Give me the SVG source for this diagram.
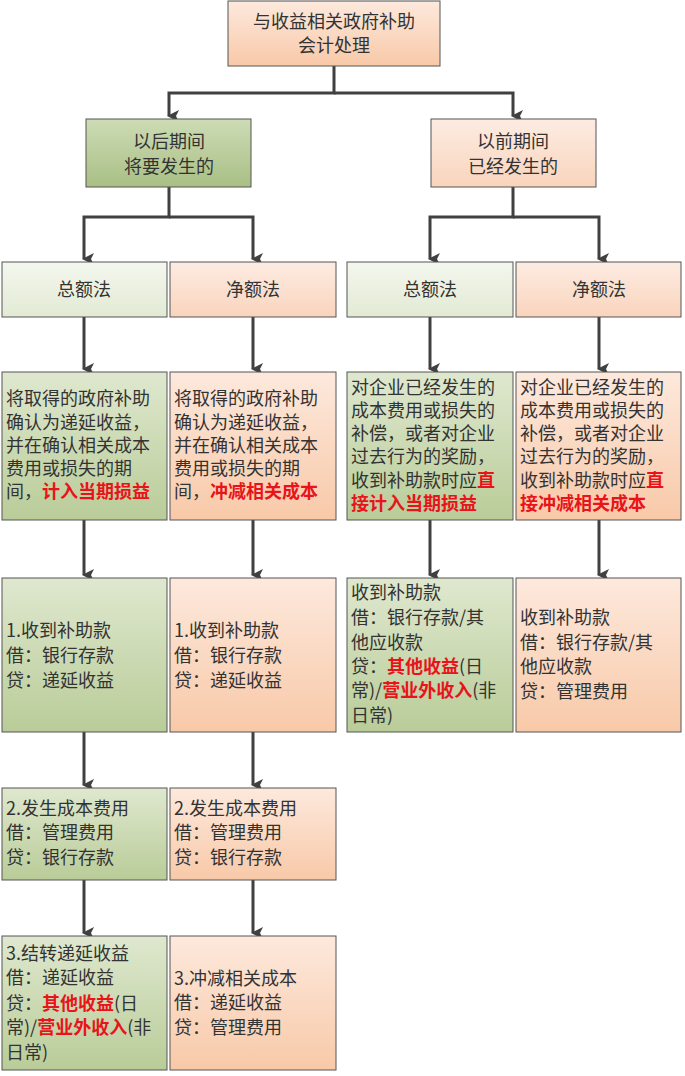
<svg xmlns="http://www.w3.org/2000/svg" width="685" height="1076" viewBox="0 0 685 1076">
<defs>
<linearGradient id="gp" x1="0" y1="0" x2="0" y2="1"><stop offset="0" stop-color="#fde9dd"/><stop offset="1" stop-color="#f8c9a8"/></linearGradient>
<linearGradient id="gpl" x1="0" y1="0" x2="0" y2="1"><stop offset="0" stop-color="#fdece2"/><stop offset="1" stop-color="#f9d4bc"/></linearGradient>
<linearGradient id="gg" x1="0" y1="0" x2="0" y2="1"><stop offset="0" stop-color="#dfe8cf"/><stop offset="1" stop-color="#b9cc98"/></linearGradient>
<linearGradient id="ggd" x1="0" y1="0" x2="0" y2="1"><stop offset="0" stop-color="#cddcb5"/><stop offset="1" stop-color="#a9bf85"/></linearGradient>
<linearGradient id="ggl" x1="0" y1="0" x2="0" y2="1"><stop offset="0" stop-color="#f4f7ee"/><stop offset="1" stop-color="#e2ead4"/></linearGradient>
<marker id="ar" markerWidth="12" markerHeight="12" refX="6" refY="10" orient="auto" markerUnits="userSpaceOnUse" viewBox="0 0 12 12"><path d="M0,0 L6,3 L12,0 L6,12 Z" fill="#404040"/></marker>
</defs>
<style>
rect{stroke:#555;stroke-width:1}
text{font-family:"Noto Sans CJK SC",sans-serif;font-size:18px;fill:#333}
.c{text-anchor:middle}
.r{fill:#e8141a;font-weight:bold}
.ln{fill:none;stroke:#404040;stroke-width:3}
</style>
<g id="connectors">
<path class="ln" d="M334,66 V93 H169 V116" marker-end="url(#ar)"/>
<path class="ln" d="M334,93 H513 V116" marker-end="url(#ar)"/>
<path class="ln" d="M169,187 V217 H84 V259" marker-end="url(#ar)"/>
<path class="ln" d="M169,217 H253 V259" marker-end="url(#ar)"/>
<path class="ln" d="M513,187 V217 H430 V259" marker-end="url(#ar)"/>
<path class="ln" d="M513,217 H599 V259" marker-end="url(#ar)"/>
<path class="ln" d="M84,317 V369" marker-end="url(#ar)"/>
<path class="ln" d="M253,317 V369" marker-end="url(#ar)"/>
<path class="ln" d="M430,317 V369" marker-end="url(#ar)"/>
<path class="ln" d="M599,317 V369" marker-end="url(#ar)"/>
<path class="ln" d="M84,520 V575" marker-end="url(#ar)"/>
<path class="ln" d="M253,520 V575" marker-end="url(#ar)"/>
<path class="ln" d="M430,520 V575" marker-end="url(#ar)"/>
<path class="ln" d="M599,520 V575" marker-end="url(#ar)"/>
<path class="ln" d="M84,732 V785" marker-end="url(#ar)"/>
<path class="ln" d="M253,732 V785" marker-end="url(#ar)"/>
<path class="ln" d="M84,880 V933" marker-end="url(#ar)"/>
<path class="ln" d="M253,880 V933" marker-end="url(#ar)"/>
</g>
<g id="root"><rect x="228" y="1" width="212" height="65" fill="url(#gp)"/><text class="c" x="334" y="28">与收益相关政府补助</text><text class="c" x="334" y="52">会计处理</text></g>
<g id="later"><rect x="86" y="119" width="165" height="68" fill="url(#ggd)"/><text class="c" x="169" y="148">以后期间</text><text class="c" x="169" y="173">将要发生的</text></g>
<g id="earlier"><rect x="431" y="119" width="165" height="68" fill="url(#gpl)"/><text class="c" x="513" y="148">以前期间</text><text class="c" x="513" y="173">已经发生的</text></g>
<g id="g1"><rect x="2" y="262" width="165" height="55" fill="url(#ggl)"/><text class="c" x="84" y="296">总额法</text></g>
<g id="n1"><rect x="170" y="262" width="166" height="55" fill="url(#gpl)"/><text class="c" x="253" y="296">净额法</text></g>
<g id="g2"><rect x="347" y="262" width="166" height="55" fill="url(#ggl)"/><text class="c" x="430" y="296">总额法</text></g>
<g id="n2"><rect x="516" y="262" width="165" height="55" fill="url(#gpl)"/><text class="c" x="599" y="296">净额法</text></g>
<g id="d1"><rect x="2" y="372" width="165" height="148" fill="url(#gg)"/>
<text x="6" y="405">将取得的政府补助</text><text x="6" y="429">确认为递延收益，</text><text x="6" y="452">并在确认相关成本</text><text x="6" y="475">费用或损失的期</text><text x="6" y="498">间，<tspan class="r">计入当期损益</tspan></text></g>
<g id="d2"><rect x="170" y="372" width="166" height="148" fill="url(#gp)"/>
<text x="174" y="405">将取得的政府补助</text><text x="174" y="429">确认为递延收益，</text><text x="174" y="452">并在确认相关成本</text><text x="174" y="475">费用或损失的期</text><text x="174" y="498">间，<tspan class="r">冲减相关成本</tspan></text></g>
<g id="d3"><rect x="347" y="372" width="166" height="148" fill="url(#gg)"/>
<text x="351" y="394">对企业已经发生的</text><text x="351" y="417">成本费用或损失的</text><text x="351" y="440">补偿，或者对企业</text><text x="351" y="463">过去行为的奖励，</text><text x="351" y="487">收到补助款时应<tspan class="r">直</tspan></text><text x="351" y="510" class="r">接计入当期损益</text></g>
<g id="d4"><rect x="516" y="372" width="165" height="148" fill="url(#gp)"/>
<text x="520" y="394">对企业已经发生的</text><text x="520" y="417">成本费用或损失的</text><text x="520" y="440">补偿，或者对企业</text><text x="520" y="463">过去行为的奖励，</text><text x="520" y="487">收到补助款时应<tspan class="r">直</tspan></text><text x="520" y="510" class="r">接冲减相关成本</text></g>
<g id="e1"><rect x="2" y="578" width="165" height="154" fill="url(#gg)"/>
<text x="6" y="637">1.收到补助款</text><text x="6" y="662">借：银行存款</text><text x="6" y="687">贷：递延收益</text></g>
<g id="e2"><rect x="170" y="578" width="166" height="154" fill="url(#gp)"/>
<text x="174" y="637">1.收到补助款</text><text x="174" y="662">借：银行存款</text><text x="174" y="687">贷：递延收益</text></g>
<g id="e3"><rect x="347" y="578" width="166" height="154" fill="url(#gg)"/>
<text x="351" y="599">收到补助款</text><text x="351" y="624">借：银行存款/其</text><text x="351" y="649">他应收款</text><text x="351" y="673">贷：<tspan class="r">其他收益</tspan>(日</text><text x="351" y="697">常)/<tspan class="r">营业外收入</tspan>(非</text><text x="351" y="722">日常)</text></g>
<g id="e4"><rect x="516" y="578" width="165" height="154" fill="url(#gp)"/>
<text x="520" y="624">收到补助款</text><text x="520" y="649">借：银行存款/其</text><text x="520" y="673">他应收款</text><text x="520" y="698">贷：管理费用</text></g>
<g id="f1"><rect x="2" y="788" width="165" height="92" fill="url(#gg)"/>
<text x="6" y="815">2.发生成本费用</text><text x="6" y="839">借：管理费用</text><text x="6" y="864">贷：银行存款</text></g>
<g id="f2"><rect x="170" y="788" width="166" height="92" fill="url(#gp)"/>
<text x="174" y="815">2.发生成本费用</text><text x="174" y="839">借：管理费用</text><text x="174" y="864">贷：银行存款</text></g>
<g id="h1"><rect x="2" y="936" width="165" height="134" fill="url(#gg)"/>
<text x="6" y="960">3.结转递延收益</text><text x="6" y="984">借：递延收益</text><text x="6" y="1010">贷：<tspan class="r">其他收益</tspan>(日</text><text x="6" y="1034">常)/<tspan class="r">营业外收入</tspan>(非</text><text x="6" y="1059">日常)</text></g>
<g id="h2"><rect x="170" y="936" width="166" height="134" fill="url(#gp)"/>
<text x="174" y="985">3.冲减相关成本</text><text x="174" y="1009">借：递延收益</text><text x="174" y="1034">贷：管理费用</text></g>
</svg>
